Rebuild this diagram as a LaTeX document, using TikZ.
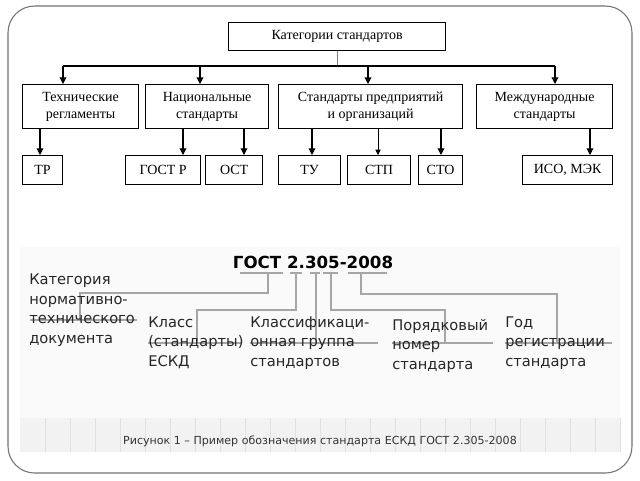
\documentclass[tikz,border=0pt]{standalone}
\usepackage{fontspec}
\setmainfont{Liberation Serif}
\newfontfamily\vfont{DejaVu Sans}
\usetikzlibrary{arrows.meta}
\begin{document}
\begin{tikzpicture}[x=0.75pt,y=-0.75pt,
  bx/.style={draw,line width=0.9pt,inner sep=0pt,anchor=north west,align=center,font=\fontsize{10.5}{12.5}\selectfont},
  arr/.style={line width=0.9pt,-{Triangle[length=5pt,width=5pt]}},
  gl/.style={draw=black!35,line width=2.2pt},
  lbl/.style={anchor=base west,align=left,inner sep=0pt,text=black!85,font=\vfont\fontsize{11}{14.6}\selectfont}]
\useasboundingbox (0,0) rectangle (640,480);
\fill[white] (0,0) rectangle (640,480);
\draw[black!55,line width=0.8pt,rounded corners=20] (8,6) rectangle (632,473);
% top tree
\node[bx,minimum width=217*0.75pt,minimum height=28*0.75pt] (top) at (228,22) {Категории стандартов};
\node[bx,minimum width=116*0.75pt,minimum height=44*0.75pt] (b1) at (22,84) {Технические\\регламенты};
\node[bx,minimum width=123*0.75pt,minimum height=44*0.75pt] (b2) at (145,84) {Национальные\\стандарты};
\node[bx,minimum width=184*0.75pt,minimum height=44*0.75pt] (b3) at (278,84) {Стандарты предприятий\\и организаций};
\node[bx,minimum width=136*0.75pt,minimum height=44*0.75pt] (b4) at (476,84) {Международные\\стандарты};
\node[bx,minimum width=40*0.75pt,minimum height=29*0.75pt] (c1) at (22,155) {ТР};
\node[bx,minimum width=75*0.75pt,minimum height=29*0.75pt] (c2) at (125,155) {ГОСТ Р};
\node[bx,minimum width=57*0.75pt,minimum height=29*0.75pt] (c3) at (205,155) {ОСТ};
\node[bx,minimum width=62*0.75pt,minimum height=29*0.75pt] (c4) at (278,155) {ТУ};
\node[bx,minimum width=63*0.75pt,minimum height=29*0.75pt] (c5) at (347,155) {СТП};
\node[bx,minimum width=44*0.75pt,minimum height=29*0.75pt] (c6) at (418,155) {СТО};
\node[bx,minimum width=90*0.75pt,minimum height=29*0.75pt] (c7) at (522,155) {ИСО, МЭК};
\coordinate (hub) at (top.south |- 0,66);
\draw[black!50,line width=0.6pt] (top.south) -- (hub);
\draw[line width=0.9pt] (63,66) -- (555,66);
\draw[arr] (63,66) -- (63,84);
\draw[arr] (200,66) -- (200,84);
\draw[arr] (368,66) -- (368,84);
\draw[arr] (555,66) -- (555,84);
\draw[arr] (40,128) -- (40,155);
\draw[arr] (183,128) -- (183,155);
\draw[arr] (244,128) -- (244,155);
\draw[arr] (312,128) -- (312,155);
\draw[line width=0.6pt,-{Triangle[length=4pt,width=4pt]}] (378,128) -- (378,155);
\draw[arr] (441,128) -- (441,155);
\draw[arr] (590,128) -- (590,155);
% bottom panel
\fill[black!2] (20,247) rectangle (620,452);
\fill[black!5] (20,418) rectangle (620,452);
\foreach \x in {45,70,...,620} \draw[black!12,line width=0.4pt] (\x,418) -- (\x,452);
\node[font=\vfont\bfseries\fontsize{12.5}{14}\selectfont,inner sep=0pt] (title) at (313,262) {ГОСТ 2.305-2008};
\draw[gl] (240,273) -- (283,273);
\draw[gl] (290,273) -- (302,273);
\draw[gl] (310,273) -- (320,273);
\draw[gl] (323,273) -- (338,273);
\draw[gl] (348,273) -- (387,273);
\draw[gl] (268,273) -- (268,293) -- (80,293) -- (80,320);
\draw[gl] (296,273) -- (296,310) -- (197,310) -- (197,343);
\draw[gl] (316,273) -- (316,343);
\draw[gl] (331,273) -- (331,310) -- (445,310) -- (445,343);
\draw[gl] (361,273) -- (361,294) -- (557,294) -- (557,343);
\draw[gl] (30,320) -- (137,320);
\draw[gl] (148,343) -- (242,343);
\draw[gl] (250,343) -- (378,343);
\draw[gl] (392,343) -- (493,343);
\draw[gl] (505,343) -- (612,343);
\node[lbl] (t1) at (29,343) {Категория\\нормативно-\\технического\\документа};
\node[lbl] (t2) at (148,366) {Класс\\(стандарты)\\ЕСКД};
\node[lbl] (t3) at (250,366) {Классификаци-\\онная группа\\стандартов};
\node[lbl] (t4) at (392,369) {Порядковый\\номер\\стандарта};
\node[lbl] (t5) at (505,366) {Год\\регистрации\\стандарта};
\node[font=\vfont\fontsize{8.3}{10}\selectfont,text=black!80] (cap) at (320,441) {Рисунок 1 – Пример обозначения стандарта ЕСКД ГОСТ 2.305-2008};
\end{tikzpicture}
\end{document}
